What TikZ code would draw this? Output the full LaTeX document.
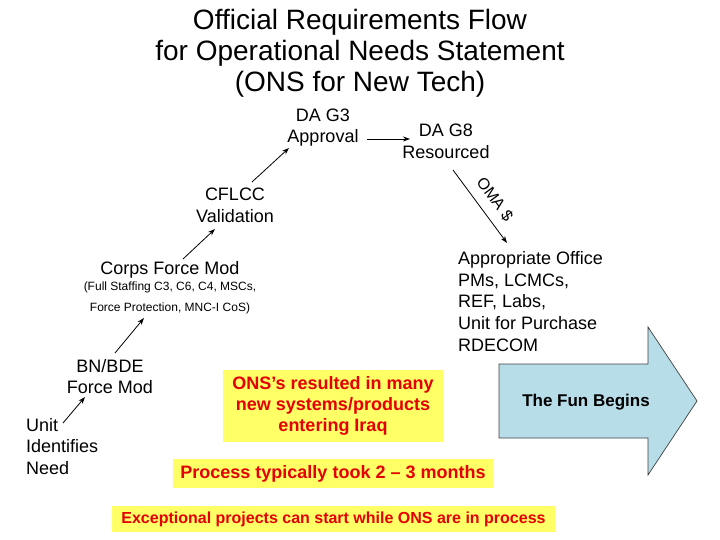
\documentclass[tikz,border=0pt]{standalone}
\usepackage{fontspec}
\setmainfont{Liberation Sans}
\usetikzlibrary{arrows.meta}
\definecolor{noteyellow}{RGB}{255,255,102}
\definecolor{notered}{RGB}{228,0,0}
\definecolor{funblue}{RGB}{183,221,232}
\definecolor{funedge}{RGB}{64,64,64}
\begin{document}
\begin{tikzpicture}[x=1pt,y=-1pt,
  txt/.style={font=\fontsize{18}{21.6}\selectfont, align=center, inner sep=0pt},
  smalltxt/.style={font=\fontsize{12}{21}\selectfont, align=center, inner sep=0pt},
  flow/.style={-{Stealth[length=7pt,width=5pt]}, line width=0.8pt},
  note/.style={fill=noteyellow, text=notered, align=center, inner sep=0pt},
]
\useasboundingbox (0,0) rectangle (720,540);

% title
\node[txt, font=\fontsize{28}{31}\selectfont] (title) at (360,53)
  {Official Requirements Flow\\for Operational Needs Statement\\(ONS for New Tech)};

% flow nodes
\node[txt] (g3) at (323,127.5) {DA G3\\Approval};
\node[txt] (g8) at (446,141.5) {DA G8\\Resourced};
\node[txt] (cflcc) at (235,205.5) {CFLCC\\Validation};
\node[txt] (corps) at (170,270) {Corps Force Mod};
\node[smalltxt] (corpsnote) at (170,297.5) {(Full Staffing C3, C6, C4, MSCs,\\Force Protection, MNC-I CoS)};
\node[txt] (bn) at (110,376.5) {BN/BDE\\Force Mod};
\node[txt, align=left, anchor=west] (unit) at (26,446.5) {Unit\\Identifies\\Need};
\node[txt, align=left, anchor=west] (office) at (458,301.5)
  {Appropriate Office\\PMs, LCMCs,\\REF, Labs,\\Unit for Purchase\\RDECOM};

% connectors
\draw[flow] ([shift={(37,-23.5)}]unit.west) -- ([shift={(-25,20.5)}]bn.center);
\draw[flow] ([shift={(5,-23.5)}]bn.center) -- ([shift={(-26,20.5)}]corpsnote.center);
\draw[flow] ([shift={(13,-11)}]corps.center) -- ([shift={(-20,23.5)}]cflcc.center);
\draw[flow] ([shift={(17,-23.5)}]cflcc.center) -- ([shift={(-34,20.5)}]g3.center);
\draw[flow] ([shift={(44,11.5)}]g3.center) -- ([shift={(-36,-2.5)}]g8.center);
\draw[flow] ([shift={(7,28.5)}]g8.center) -- ([shift={(49,-58.5)}]office.west);
\node[font=\fontsize{16}{18}\selectfont, inner sep=0pt, rotate=-53.5] (oma) at (495,199) {OMA \$};

% notes
\node[note, font=\bfseries\fontsize{18}{21}\selectfont, minimum width=220, minimum height=72] (n1) at (333,406)
  {ONS’s resulted in many\\new systems/products\\entering Iraq};
\node[note, font=\bfseries\fontsize{18}{21}\selectfont, minimum width=320, minimum height=29] (n2) at (333,473.5)
  {Process typically took 2 – 3 months};
\node[note, font=\bfseries\fontsize{16}{19}\selectfont, minimum width=443, minimum height=26] (n3) at (333.5,519)
  {Exceptional projects can start while ONS are in process};

% big arrow
\draw[fill=funblue, draw=funedge, line width=0.7pt]
  (499,364) -- (648,364) -- (648,327) -- (697,401) -- (648,475) -- (648,438) -- (499,438) -- cycle;
\node[font=\bfseries\fontsize{17}{20}\selectfont, inner sep=0pt] (fun) at (586,402) {The Fun Begins};
\end{tikzpicture}
\end{document}
